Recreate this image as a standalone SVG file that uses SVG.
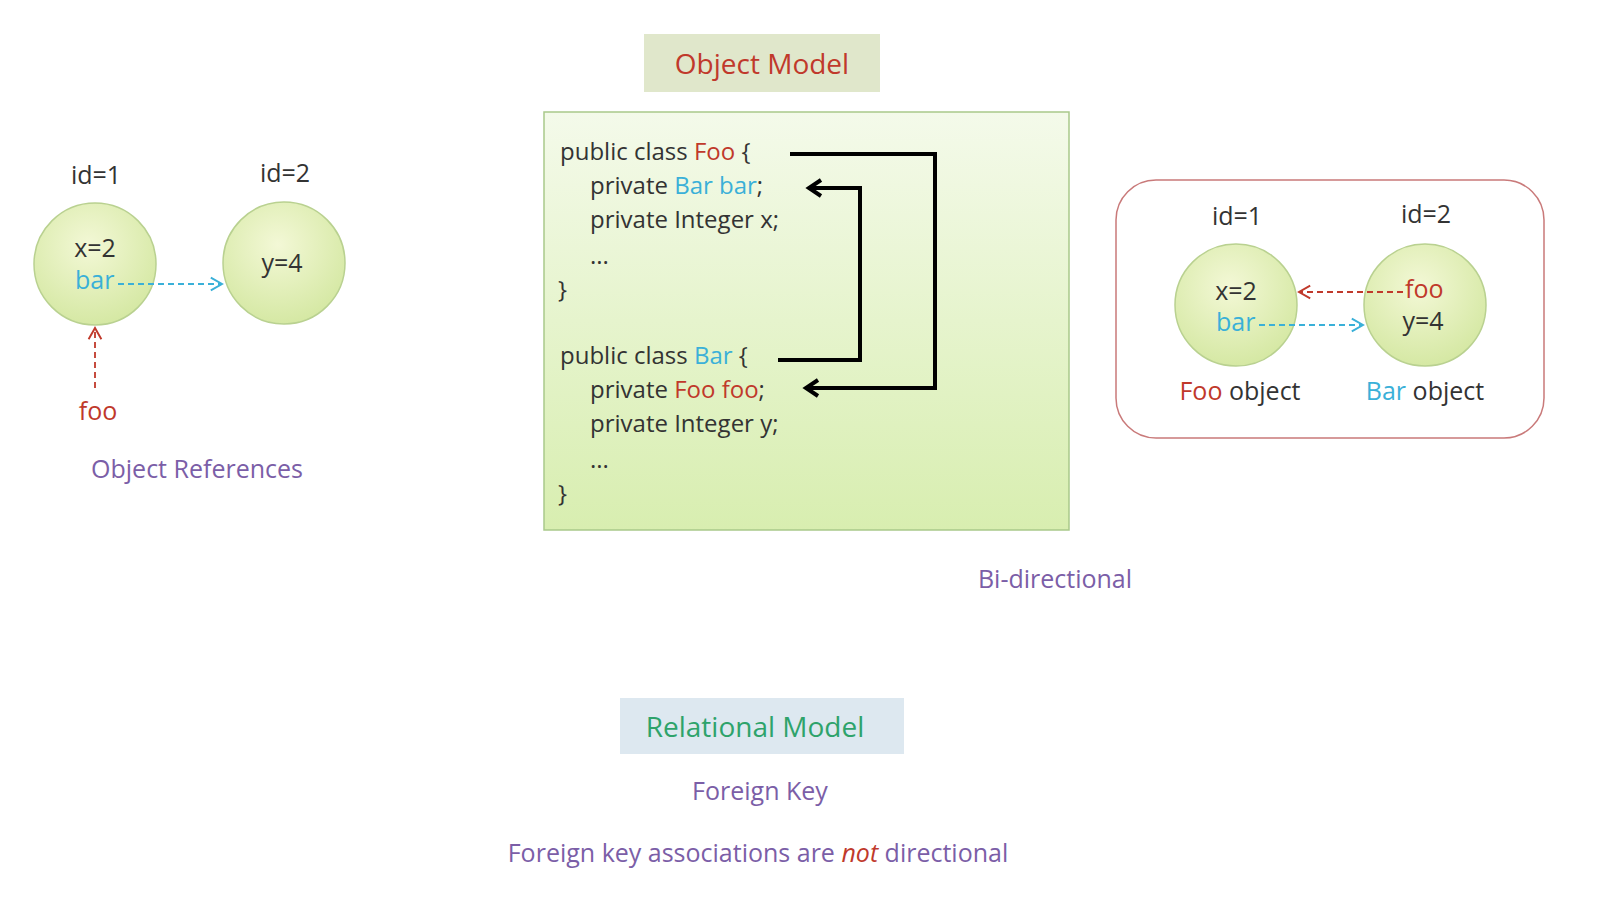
<svg xmlns="http://www.w3.org/2000/svg" width="1600" height="924" viewBox="0 0 1600 924">
<defs>
<radialGradient id="cg" cx="0.45" cy="0.35" r="0.7"><stop offset="0" stop-color="#f3f8d6"/><stop offset="1" stop-color="#d3e7a0"/></radialGradient>
<linearGradient id="bg" x1="0" y1="0" x2="0" y2="1"><stop offset="0" stop-color="#f4faea"/><stop offset="1" stop-color="#d8eeb0"/></linearGradient>
<marker id="ab" viewBox="0 0 10 10" refX="9" refY="5" markerWidth="16" markerHeight="16" orient="auto" markerUnits="userSpaceOnUse"><path d="M2,1 L9,5 L2,9" fill="none" stroke="#3ab0d8" stroke-width="1.2"/></marker>
<marker id="ar" viewBox="0 0 10 10" refX="9" refY="5" markerWidth="16" markerHeight="16" orient="auto" markerUnits="userSpaceOnUse"><path d="M2,1 L9,5 L2,9" fill="none" stroke="#c0392b" stroke-width="1.2"/></marker>
<marker id="ak" viewBox="0 0 10 10" refX="8" refY="5" markerWidth="5" markerHeight="5" orient="auto"><path d="M2,1 L8,5 L2,9" fill="none" stroke="#000" stroke-width="2"/></marker>
</defs>
<style>
text{font-family:"Open Sans","Noto Sans","Liberation Sans",sans-serif;font-size:25px;fill:#333}
.code{font-size:24px}
.r{fill:#c0392b}.b{fill:#3ab0d8}.p{fill:#7b5ea7}.g{fill:#2ea36b}
.c{fill:url(#cg);stroke:#b9d190;stroke-width:1.5}
.m{text-anchor:middle}
</style>
<rect width="1600" height="924" fill="#fff"/>
<g id="left">
<text class="m" x="96" y="184">id=1</text>
<text class="m" x="285" y="182">id=2</text>
<circle class="c" cx="95" cy="264" r="61"/>
<circle class="c" cx="284" cy="263" r="61"/>
<text class="m" x="95" y="257">x=2</text>
<text class="b" x="75" y="289">bar</text>
<text class="m" x="282" y="272">y=4</text>
<text class="r m" x="98" y="420">foo</text>
<text class="p m" x="197" y="478">Object References</text>
</g>
<g id="objmodel">
<rect x="644" y="34" width="236" height="58" fill="#e0e7cb"/>
<text class="r m" x="762" y="74" style="font-size:28px">Object Model</text>
</g>
<g id="code" class="code">
<rect x="544" y="112" width="525" height="418" fill="url(#bg)" stroke="#a9c98a" stroke-width="1.5"/>
<text class="code" x="560" y="160">public class <tspan class="r">Foo</tspan> {</text>
<text class="code" x="590" y="194">private <tspan class="b">Bar bar</tspan>;</text>
<text class="code" x="590" y="228">private Integer x;</text>
<text class="code" x="590" y="264">...</text>
<text class="code" x="558" y="298">}</text>
<text class="code" x="560" y="364">public class <tspan class="b">Bar</tspan> {</text>
<text class="code" x="590" y="398">private <tspan class="r">Foo foo</tspan>;</text>
<text class="code" x="590" y="432">private Integer y;</text>
<text class="code" x="590" y="468">...</text>
<text class="code" x="558" y="502">}</text>
</g>
<g id="right">
<rect x="1116" y="180" width="428" height="258" rx="40" fill="#fff" stroke="#c97a7a" stroke-width="1.5"/>
<text class="m" x="1237" y="225">id=1</text>
<text class="m" x="1426" y="223">id=2</text>
<circle class="c" cx="1236" cy="305" r="61"/>
<circle class="c" cx="1425" cy="305" r="61"/>
<text class="m" x="1236" y="300">x=2</text>
<text class="b" x="1216" y="331">bar</text>
<text class="r" x="1405" y="298">foo</text>
<text class="m" x="1423" y="330">y=4</text>
<text class="m" x="1240" y="400"><tspan class="r">Foo</tspan> object</text>
<text class="m" x="1425" y="400"><tspan class="b">Bar</tspan> object</text>
</g>
<g id="labels">
<text class="p m" x="1055" y="588">Bi-directional</text>
<rect x="620" y="698" width="284" height="56" fill="#dde8f0"/>
<text class="g m" x="755" y="737" style="font-size:28px">Relational Model</text>
<text class="p m" x="760" y="800">Foreign Key</text>
<text class="p m" x="758" y="862">Foreign key associations are <tspan class="r" font-style="italic">not</tspan> directional</text>
</g>
<g id="connectors" fill="none">
<path d="M118,284 H222" stroke="#3ab0d8" stroke-width="1.8" stroke-dasharray="6,4" marker-end="url(#ab)"/>
<path d="M95,388 V328" stroke="#c0392b" stroke-width="1.8" stroke-dasharray="6,4" marker-end="url(#ar)"/>
<path d="M1259,325 H1363" stroke="#3ab0d8" stroke-width="1.8" stroke-dasharray="6,4" marker-end="url(#ab)"/>
<path d="M1403,292 H1299" stroke="#c0392b" stroke-width="1.8" stroke-dasharray="6,4" marker-end="url(#ar)"/>
<path d="M790,154 H935 V388 H806" stroke="#000" stroke-width="4" marker-end="url(#ak)"/>
<path d="M778,360 H860 V188 H809" stroke="#000" stroke-width="4" marker-end="url(#ak)"/>
</g>
</svg>
